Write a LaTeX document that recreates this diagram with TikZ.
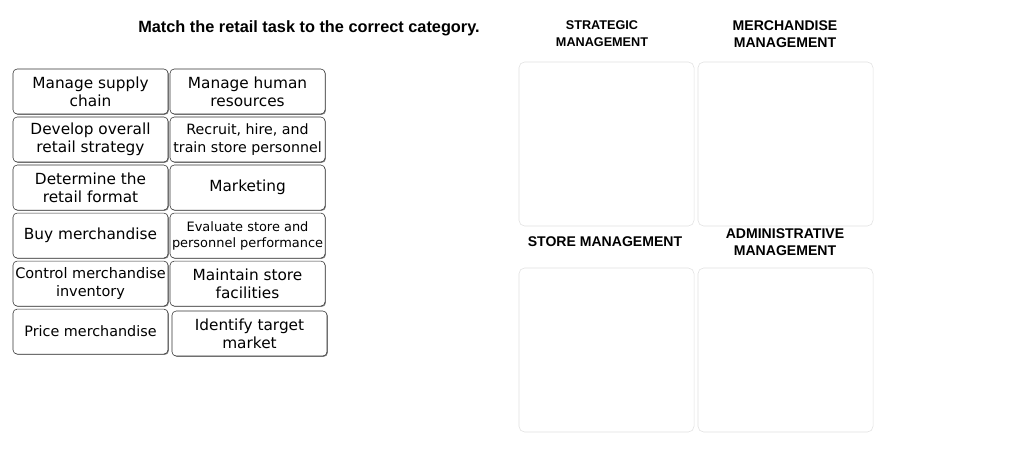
\documentclass[tikz,border=0pt]{standalone}
\usepackage{fontspec}
\setmainfont{Liberation Sans}
\newfontfamily\tilefont{DejaVu Sans}
\usetikzlibrary{shadows}
\usetikzlibrary{positioning}

\tikzset{tile/.style={draw=black!80,rounded corners=3pt,fill=white,
    minimum width=3.875cm,minimum height=1.125cm,inner sep=0pt,outer sep=0pt,
    align=center,font=\tilefont\fontsize{10.9pt}{12.6pt}\selectfont,
    drop shadow={shadow xshift=0.6pt,shadow yshift=-0.6pt,opacity=0.7,fill=black!70}},
  zone/.style={draw=black!12,rounded corners=4pt,minimum width=4.375cm,
    minimum height=4.1cm,inner sep=0pt},
  head/.style={font=\bfseries\fontsize{9pt}{12pt}\selectfont,align=center},
  bighead/.style={font=\bfseries\fontsize{10pt}{12pt}\selectfont,align=center}}

\begin{document}
\begin{tikzpicture}[x=0.025cm,y=-0.025cm,node distance=0.075cm]
\useasboundingbox (0,0) rectangle (1024,453);

\node[font=\bfseries\fontsize{11.6pt}{14pt}\selectfont] (title) at (309,28)
  {Match the retail task to the correct category.};

% task tiles
\node[tile] (supply) at (90.5,91.5) {Manage supply\\chain};
\node[tile,below=of supply] (strategy) {Develop overall\\retail strategy};
\node[tile,below=of strategy] (format) {Determine the\\retail format};
\node[tile,below=of format] (buy) {Buy merchandise};
\node[tile,below=of buy,font=\tilefont\fontsize{10.3pt}{12.4pt}\selectfont] (control) {Control merchandise\\inventory};
\node[tile,below=of control,font=\tilefont\fontsize{10.2pt}{12pt}\selectfont] (price) {Price merchandise};

\node[tile,right=0.05cm of supply] (human) {Manage human\\resources};
\node[tile,right=0.05cm of strategy,font=\tilefont\fontsize{10.1pt}{12.4pt}\selectfont] (recruit) {Recruit, hire, and\\train store personnel};
\node[tile,right=0.05cm of format] (marketing) {Marketing};
\node[tile,right=0.05cm of buy,font=\tilefont\fontsize{9.2pt}{11.5pt}\selectfont] (evaluate) {Evaluate store and\\personnel performance};
\node[tile,right=0.05cm of control] (facilities) {Maintain store\\facilities};
\node[tile] (target) at (249.5,333.5) {Identify target\\market};

% drop zones
\node[zone] (strat) at (606.5,144) {};
\node[zone] (merch) at (785.5,144) {};
\node[zone] (store) at (606.5,350) {};
\node[zone] (admin) at (785.5,350) {};

\node[head] (strathead) at (602,34) {STRATEGIC\\MANAGEMENT};
\node[bighead] (merchhead) at (785,34) {MERCHANDISE\\MANAGEMENT};
\node[bighead] (storehead) at (605,242) {STORE MANAGEMENT};
\node[bighead] (adminhead) at (785,242) {ADMINISTRATIVE\\MANAGEMENT};
\end{tikzpicture}
\end{document}
